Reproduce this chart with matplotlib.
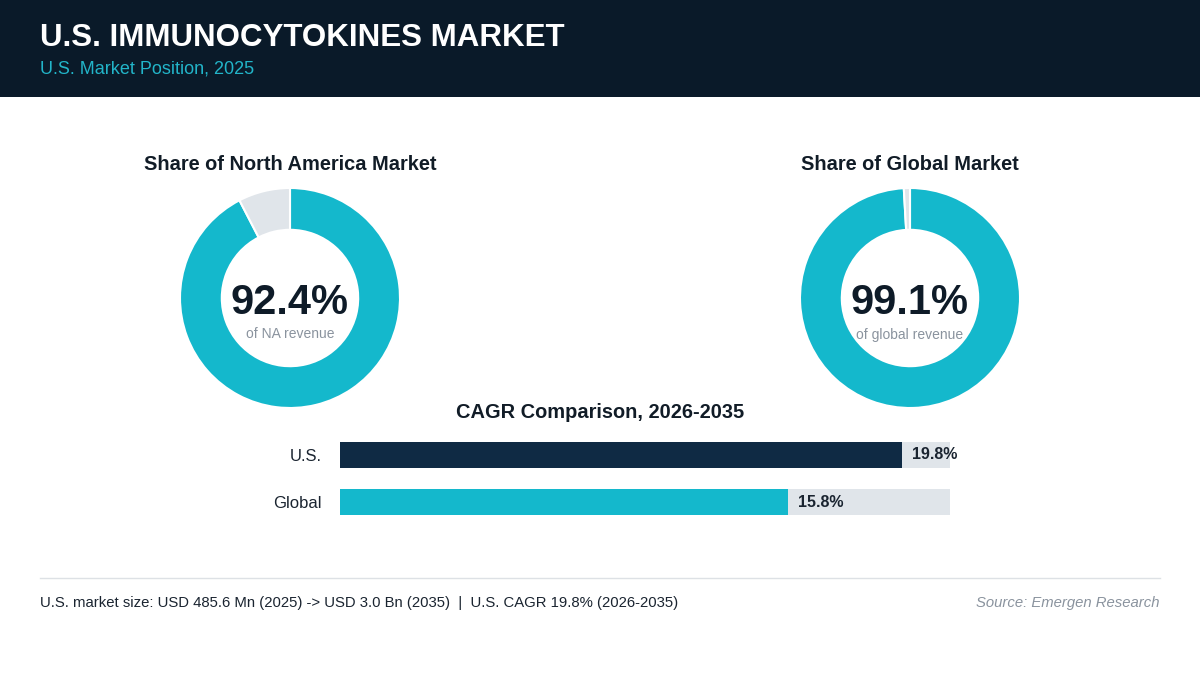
import matplotlib.pyplot as plt
from matplotlib.patches import Rectangle

plt.rcParams['font.family'] = ['Liberation Sans', 'DejaVu Sans']

# data
na_share = 92.4
global_share = 99.1
cagr_labels = ['U.S.', 'Global']
cagr_values = [19.8, 15.8]
cagr_max = 21.5

W, H = 1200, 675
CYAN = '#14b8cc'
NAVY = '#0f2a44'
TRACK = '#e0e5ea'

fig = plt.figure(figsize=(W / 100, H / 100), dpi=100)
fig.patch.set_facecolor('white')


def fx(px):
    return px / W


def fy(py):
    return 1 - py / H


def txt(x, y, s, **kw):
    fig.text(fx(x), fy(y), s, **kw)


# header band
fig.patches.append(Rectangle((0, fy(97)), 1, 97 / H, transform=fig.transFigure,
                             facecolor='#0a1a29', edgecolor='none', zorder=0))
txt(40, 38.5, 'U.S. IMMUNOCYTOKINES MARKET', color='white', fontsize=22.5,
    fontweight='bold', va='center', ha='left')
txt(40, 69, 'U.S. Market Position, 2025', color='#22b5c9', fontsize=13,
    va='center', ha='left')


# donuts
def donut(cx, cy, share, title, sub):
    r = 110
    ax = fig.add_axes([fx(cx - r), fy(cy + r), 2 * r / W, 2 * r / H])
    ax.pie([share, 100 - share], colors=[CYAN, TRACK], startangle=90,
           counterclock=False, radius=1,
           wedgeprops=dict(width=0.38, edgecolor='white', linewidth=1.5))
    ax.set_xlim(-1, 1)
    ax.set_ylim(-1, 1)
    ax.set_aspect('auto')
    ax.axis('off')
    txt(cx, 164.5, title, fontsize=14.4, fontweight='bold', color='#111c27',
        ha='center', va='center')
    txt(cx, 303, f'{share:.1f}%', fontsize=30, fontweight='bold', color='#0e1b28',
        ha='center', va='center')
    txt(cx, 334.5, sub, fontsize=10, color='#8a939e', ha='center', va='center')


donut(290, 298, na_share, 'Share of North America Market', 'of NA revenue')
donut(910, 298, global_share, 'Share of Global Market', 'of global revenue')

# CAGR bars
txt(600, 412, 'CAGR Comparison, 2026-2035', fontsize=14.4, fontweight='bold',
    color='#111c27', ha='center', va='center')
bx = fig.add_axes([fx(340), fy(526), 610 / W, 95 / H])
ypos = list(range(len(cagr_labels)))
bx.barh(ypos, [cagr_max] * len(ypos), height=0.55, color=TRACK)
bx.barh(ypos, cagr_values, height=0.55, color=[NAVY, CYAN])
for y, v in zip(ypos, cagr_values):
    bx.text(v + 0.35, y, f'{v:.1f}%', fontsize=11.5, fontweight='bold',
            color='#1a2430', ha='left', va='center')
bx.set_xlim(0, cagr_max)
bx.set_ylim(1.5, -0.5)
bx.set_yticks(ypos)
bx.set_yticklabels(cagr_labels, fontsize=12, color='#1a2430')
bx.tick_params(axis='y', length=0, pad=13)
bx.set_xticks([])
for s in bx.spines.values():
    s.set_visible(False)

# footer
fig.add_artist(plt.Line2D([fx(40), fx(1160)], [fy(578), fy(578)],
                          transform=fig.transFigure, color='#dde1e5', linewidth=1))
txt(40, 603.5, 'U.S. market size: USD 485.6 Mn (2025) -> USD 3.0 Bn (2035)  |  U.S. CAGR 19.8% (2026-2035)',
    fontsize=10.75, color='#1a2430', ha='left', va='center')
txt(1160, 603.5, 'Source: Emergen Research', fontsize=10.75, color='#8a939e',
    style='italic', ha='right', va='center')

fig.savefig('out.png', dpi=100, facecolor='white')
